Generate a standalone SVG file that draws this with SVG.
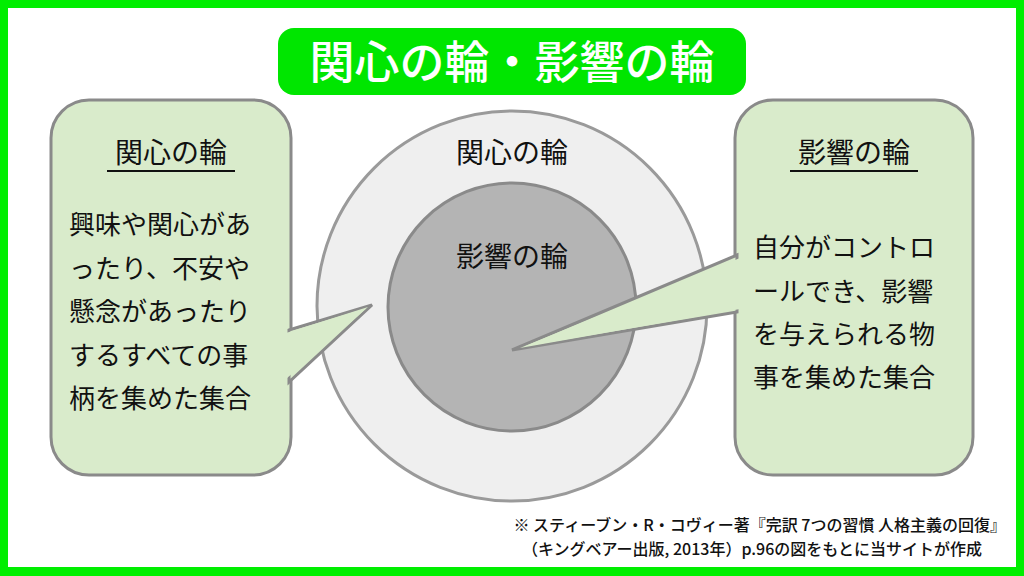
<svg xmlns="http://www.w3.org/2000/svg" width="1024" height="576" viewBox="0 0 1024 576">
<style>
text{font-family:"Noto Sans CJK JP","Liberation Sans",sans-serif;fill:#111}
.box{fill:#d9ebcb;stroke:#8a8a8a;stroke-width:3}
.fillonly{fill:#d9ebcb}
.h{font-size:28px;text-anchor:middle}
.b{font-size:26px}
.ul{stroke:#111;stroke-width:2}
</style>
<rect x="0" y="0" width="1024" height="576" fill="#00ee00"/>
<rect x="8" y="8" width="1008" height="559" fill="#fff"/>
<g id="title">
<rect x="278" y="28" width="468" height="67" rx="16" fill="#00e600"/>
<text x="512" y="79" style="font-size:45px;fill:#fff;font-weight:500" text-anchor="middle">関心の輪・影響の輪</text>
</g>
<g id="circles">
<circle cx="512" cy="306" r="195" fill="#efefef" stroke="#9a9a9a" stroke-width="3"/>
<text x="512" y="163" class="h">関心の輪</text>
<circle cx="512" cy="307" r="124" fill="#b4b4b4" stroke="#8a8a8a" stroke-width="3"/>
<text x="512" y="267" class="h">影響の輪</text>
</g>
<g id="left">
<rect x="51" y="100" width="240" height="375" rx="38" class="box"/>
<polygon points="289,330 372,305 289,382" class="box"/>
<polygon points="286,333 368,307 286,379" class="fillonly"/>
<text x="171" y="163" class="h">関心の輪</text>
<line x1="107" y1="171" x2="235" y2="171" class="ul"/>
<text class="b" x="69" y="234">興味や関心があ</text>
<text class="b" x="69" y="278">ったり、不安や</text>
<text class="b" x="69" y="321">懸念があったり</text>
<text class="b" x="69" y="365">するすべての事</text>
<text class="b" x="69" y="408">柄を集めた集合</text>
</g>
<g id="right">
<rect x="735" y="100" width="238" height="375" rx="38" class="box"/>
<polygon points="737,255 512,350 737,312" class="box"/>
<polygon points="740,258 520,348 740,309" class="fillonly"/>
<text x="854" y="163" class="h">影響の輪</text>
<line x1="790" y1="171" x2="918" y2="171" class="ul"/>
<text class="b" x="753" y="257">自分がコントロ</text>
<text class="b" x="753" y="301">ールでき、影響</text>
<text class="b" x="753" y="344">を与えられる物</text>
<text class="b" x="753" y="387">事を集めた集合</text>
</g>
<g id="note">
<text x="1006" y="531" style="font-size:16px;font-weight:500" text-anchor="end">※ スティーブン・R・コヴィー著『完訳 7つの習慣 人格主義の回復』</text>
<text x="982" y="555" style="font-size:16px;font-weight:500" text-anchor="end">（キングベアー出版, 2013年）p.96の図をもとに当サイトが作成</text>
</g>
</svg>
